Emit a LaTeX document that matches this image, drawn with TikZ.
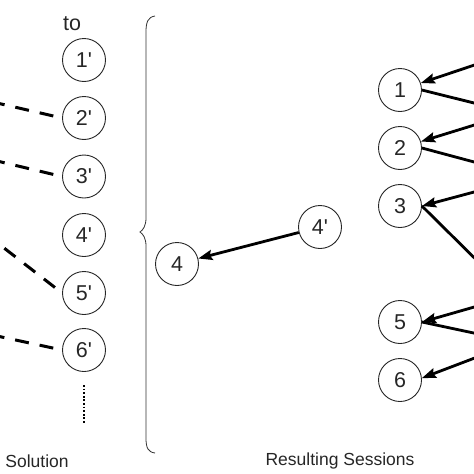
\documentclass[tikz,border=0pt]{standalone}
\usepackage{fontspec}
\setmainfont{Liberation Sans}
\usetikzlibrary{arrows.meta}
\begin{document}
\begin{tikzpicture}[x=1pt,y=-1pt,
  sess/.style={circle,draw=black!85,line width=0.9pt,minimum size=43pt,inner sep=0pt,font=\fontsize{21.5}{21.5}\selectfont, text=black!85},
  arr/.style={line width=2.8pt,-{Stealth[length=14pt,width=10pt,inset=2pt]}},
  outline/.style={line width=2.8pt},
  dashline/.style={line width=3pt,dash pattern=on 14pt off 11pt,shorten <=9pt},
  lbl/.style={font=\fontsize{17.5}{17.5}\selectfont, text=black!85}]
\useasboundingbox (0,0) rectangle (474,474);
\clip (0,0) rectangle (474,474);

% left column (primes)
\node[font=\fontsize{21.5}{21.5}\selectfont, text=black!85] (to) at (72,24) {to};
\node[sess] (p1) at (84,60) {1\textquotesingle};
\node[sess] (p2) at (84,118) {2\textquotesingle};
\node[sess] (p3) at (84,176.5) {3\textquotesingle};
\node[sess] (p4) at (84,235) {4\textquotesingle};
\node[sess] (p5) at (84,293) {5\textquotesingle};
\node[sess] (p6) at (84,350) {6\textquotesingle};
\coordinate (dt) at (84,385);
\coordinate (db) at (84,423);
\draw[line width=1.8pt, dash pattern=on 1.8pt off 1.8pt] (dt) -- (db);

\coordinate (d2) at (-3,103);
\coordinate (d3) at (-3,161);
\coordinate (d5) at (-5,241);
\coordinate (d6) at (-3,336);
\draw[dashline] (p2.west) -- (d2);
\draw[dashline] (p3.west) -- (d3);
\draw[dashline] (p5.west) -- (d5);
\draw[dashline] (p6.west) -- (d6);

\node[lbl] (sol) at (37,461) {Solution};

% brace
\draw[line width=0.8pt, black!80] (155,16) .. controls (148,17) and (146,22) .. (146,32) -- (146,218) .. controls (146,226) and (143,230) .. (140,232) .. controls (143,234) and (146,238) .. (146,246) -- (146,438) .. controls (146,448) and (148,452) .. (155,453);

% middle
\node[sess] (r4) at (177,264) {4};
\node[sess] (q4) at (320,227) {4\textquotesingle};
\draw[arr] (q4) -- (r4);

% right column
\node[sess] (r1) at (400,90) {1};
\node[sess] (r2) at (400,148) {2};
\node[sess] (r3) at (400,206) {3};
\node[sess] (r5) at (400,322) {5};
\node[sess] (r6) at (400,380) {6};

\coordinate (a1in) at (476,64.5);
\coordinate (a1out) at (476,103.5);
\coordinate (a2in) at (476,124.5);
\coordinate (a2out) at (476,162.5);
\coordinate (a3in) at (476,191.5);
\coordinate (a3out) at (476,259.5);
\coordinate (a5in) at (476,306.5);
\coordinate (a5out) at (476,333.5);
\coordinate (a6in) at (476,357.5);

\draw[arr] (a1in) -- (r1);
\draw[outline] (r1.east) -- (a1out);
\draw[arr] (a2in) -- (r2);
\draw[outline] (r2.east) -- (a2out);
\draw[arr] (a3in) -- (r3.east);
\draw[outline] (r3.east) -- (a3out);
\draw[arr] (a5in) -- (r5.east);
\draw[outline] (r5.east) -- (a5out);
\draw[arr] (a6in) -- (r6.5);

\node[lbl] (res) at (340,461) {Resulting Sessions};
\end{tikzpicture}
\end{document}
